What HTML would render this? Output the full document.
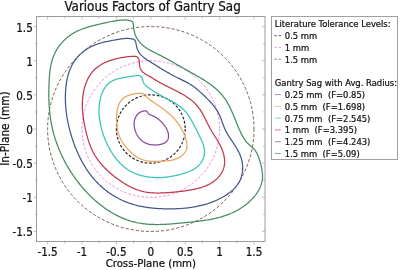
<!DOCTYPE html>
<html><head><meta charset="utf-8"><style>
html,body{margin:0;padding:0;background:#fff;}
svg{display:block;}
</style></head><body>
<svg width="400" height="270" viewBox="0 0 400 270">
<rect width="400" height="270" fill="#fff"/>
<clipPath id="c"><rect x="36.5" y="16.5" width="228.5" height="225.0"/></clipPath>
<g clip-path="url(#c)">
<ellipse cx="150.8" cy="129.0" rx="103.20" ry="102.45" fill="none" stroke="#7a5f52" stroke-width="1.0" stroke-dasharray="3.1 2.0"/>
<ellipse cx="150.8" cy="129.0" rx="68.80" ry="68.30" fill="none" stroke="#e892dc" stroke-width="1.0" stroke-dasharray="2.7 1.7"/>
<ellipse cx="150.8" cy="129.0" rx="34.40" ry="34.15" fill="none" stroke="#2a2a2a" stroke-width="1.2" stroke-dasharray="2.7 1.7"/>
<path d="M52.49,128.98 52.20,127.70 51.93,126.42 51.66,125.14 51.41,123.86 51.18,122.57 50.95,121.28 50.74,119.99 50.54,118.70 50.35,117.41 50.18,116.11 50.01,114.81 49.86,113.51 49.72,112.21 49.59,110.91 49.47,109.60 49.36,108.30 49.26,106.99 49.17,105.68 49.09,104.37 49.02,103.05 48.96,101.74 48.91,100.43 48.87,99.11 48.84,97.79 48.82,96.47 48.80,95.15 48.80,93.83 48.80,92.51 48.81,91.18 48.83,89.86 48.85,88.54 48.89,87.21 48.93,85.88 48.97,84.56 49.03,83.23 49.09,81.90 49.16,80.57 49.23,79.25 49.32,77.92 49.41,76.59 49.52,75.27 49.64,73.95 49.78,72.63 49.93,71.32 50.11,70.01 50.30,68.71 50.51,67.41 50.74,66.12 51.00,64.84 51.28,63.56 51.59,62.30 51.92,61.04 52.29,59.79 52.69,58.56 53.11,57.33 53.58,56.12 54.07,54.92 54.60,53.73 55.17,52.56 55.78,51.40 56.42,50.26 57.09,49.13 57.79,48.03 58.53,46.94 59.30,45.87 60.09,44.82 60.92,43.79 61.78,42.79 62.66,41.81 63.57,40.85 64.50,39.92 65.46,39.02 66.45,38.14 67.45,37.30 68.49,36.48 69.54,35.69 70.61,34.93 71.70,34.21 72.81,33.52 73.94,32.86 75.09,32.23 76.25,31.63 77.43,31.05 78.63,30.51 79.83,29.99 81.05,29.49 82.28,29.02 83.52,28.57 84.77,28.14 86.02,27.72 87.29,27.32 88.56,26.94 89.83,26.58 91.11,26.22 92.40,25.88 93.68,25.55 94.97,25.23 96.26,24.91 97.54,24.60 98.83,24.30 100.11,24.00 101.39,23.70 102.66,23.41 103.93,23.11 105.20,22.83 106.47,22.54 107.74,22.27 109.01,22.00 110.28,21.74 111.55,21.49 112.83,21.26 114.12,21.04 115.40,20.84 116.70,20.65 118.01,20.48 119.32,20.33 120.64,20.20 121.98,20.09 123.32,20.01 124.68,19.97 126.02,19.99 127.36,20.08 128.68,20.27 129.98,20.56 131.25,20.98 132.35,21.61 132.99,22.63 133.27,23.94 133.43,25.30 133.57,26.64 133.71,27.96 133.86,29.27 134.06,30.56 134.31,31.83 134.65,33.09 135.07,34.32 135.55,35.53 136.11,36.72 136.73,37.87 137.41,39.00 138.15,40.10 138.94,41.16 139.78,42.19 140.68,43.18 141.61,44.13 142.58,45.03 143.59,45.89 144.63,46.71 145.71,47.49 146.80,48.22 147.92,48.93 149.06,49.61 150.22,50.26 151.38,50.89 152.56,51.51 153.74,52.11 154.93,52.71 156.12,53.30 157.30,53.89 158.48,54.48 159.65,55.08 160.82,55.68 161.98,56.29 163.13,56.90 164.28,57.51 165.43,58.13 166.57,58.75 167.71,59.37 168.84,60.00 169.98,60.63 171.11,61.26 172.23,61.90 173.36,62.53 174.49,63.17 175.62,63.81 176.75,64.45 177.87,65.10 179.00,65.74 180.14,66.39 181.27,67.03 182.41,67.68 183.55,68.33 184.69,68.98 185.84,69.62 186.99,70.27 188.15,70.92 189.31,71.57 190.47,72.21 191.64,72.87 192.81,73.52 193.98,74.17 195.14,74.83 196.31,75.50 197.47,76.17 198.63,76.84 199.79,77.52 200.94,78.21 202.08,78.90 203.22,79.61 204.35,80.32 205.47,81.04 206.58,81.77 207.69,82.51 208.78,83.26 209.85,84.03 210.92,84.81 211.97,85.59 213.00,86.40 214.02,87.22 215.02,88.05 216.01,88.90 216.98,89.76 217.92,90.65 218.85,91.54 219.75,92.46 220.63,93.40 221.49,94.35 222.33,95.33 223.14,96.33 223.92,97.35 224.68,98.39 225.41,99.45 226.12,100.53 226.81,101.63 227.47,102.74 228.11,103.88 228.73,105.03 229.34,106.19 229.93,107.37 230.50,108.55 231.06,109.75 231.61,110.96 232.15,112.18 232.68,113.40 233.20,114.63 233.71,115.86 234.22,117.10 234.72,118.34 235.22,119.58 235.72,120.82 236.22,122.06 236.72,123.30 237.23,124.53 237.74,125.76 238.25,126.99 238.77,128.20 239.30,129.41 239.84,130.61 240.39,131.80 240.95,132.97 241.53,134.13 242.12,135.28 242.73,136.42 243.36,137.53 244.02,138.63 244.72,139.70 245.47,140.74 246.28,141.74 247.16,142.71 248.11,143.65 249.10,144.56 250.12,145.46 251.15,146.35 252.16,147.26 253.13,148.19 254.05,149.15 254.88,150.15 255.64,151.20 256.33,152.29 256.96,153.41 257.53,154.57 258.04,155.76 258.52,156.98 258.96,158.22 259.37,159.48 259.76,160.75 260.13,162.04 260.49,163.35 260.84,164.65 261.16,165.97 261.46,167.29 261.74,168.62 261.98,169.95 262.18,171.27 262.34,172.60 262.45,173.92 262.52,175.24 262.53,176.55 262.49,177.85 262.38,179.13 262.20,180.41 261.97,181.68 261.67,182.93 261.31,184.16 260.90,185.39 260.44,186.59 259.92,187.79 259.36,188.96 258.74,190.12 258.09,191.26 257.38,192.38 256.64,193.48 255.86,194.57 255.05,195.63 254.20,196.67 253.32,197.69 252.41,198.69 251.47,199.67 250.50,200.62 249.52,201.55 248.51,202.46 247.49,203.34 246.44,204.19 245.39,205.02 244.32,205.82 243.24,206.60 242.15,207.34 241.05,208.06 239.95,208.76 238.83,209.43 237.70,210.08 236.56,210.70 235.41,211.30 234.26,211.88 233.09,212.44 231.92,212.97 230.74,213.48 229.55,213.98 228.36,214.45 227.15,214.91 225.94,215.34 224.72,215.76 223.50,216.16 222.26,216.54 221.02,216.91 219.78,217.26 218.53,217.59 217.27,217.91 216.01,218.22 214.74,218.51 213.47,218.79 212.19,219.05 210.91,219.31 209.62,219.55 208.33,219.78 207.03,220.00 205.73,220.22 204.43,220.42 203.12,220.61 201.81,220.80 200.50,220.98 199.18,221.15 197.87,221.31 196.55,221.47 195.22,221.62 193.90,221.77 192.57,221.91 191.24,222.05 189.92,222.19 188.59,222.33 187.25,222.46 185.92,222.59 184.59,222.72 183.26,222.85 181.93,222.98 180.59,223.10 179.26,223.23 177.93,223.35 176.60,223.47 175.27,223.59 173.94,223.70 172.61,223.81 171.28,223.91 169.96,224.01 168.63,224.10 167.30,224.18 165.98,224.26 164.66,224.32 163.34,224.38 162.02,224.43 160.70,224.47 159.39,224.50 158.07,224.51 156.76,224.52 155.45,224.51 154.15,224.49 152.84,224.45 151.54,224.41 150.24,224.34 148.94,224.26 147.65,224.17 146.36,224.06 145.07,223.93 143.79,223.79 142.51,223.62 141.23,223.44 139.96,223.24 138.69,223.01 137.42,222.77 136.16,222.51 134.90,222.22 133.65,221.91 132.40,221.58 131.15,221.23 129.91,220.85 128.68,220.45 127.45,220.03 126.22,219.59 125.00,219.12 123.78,218.64 122.58,218.13 121.37,217.61 120.18,217.06 118.99,216.50 117.80,215.92 116.63,215.32 115.46,214.70 114.29,214.07 113.14,213.42 111.99,212.75 110.85,212.06 109.72,211.36 108.60,210.65 107.49,209.92 106.38,209.18 105.28,208.42 104.20,207.65 103.12,206.86 102.05,206.07 100.99,205.26 99.94,204.44 98.90,203.61 97.88,202.76 96.86,201.91 95.85,201.05 94.86,200.17 93.87,199.29 92.90,198.40 91.94,197.50 90.99,196.59 90.05,195.68 89.12,194.75 88.20,193.82 87.29,192.87 86.39,191.92 85.51,190.96 84.63,190.00 83.76,189.02 82.90,188.03 82.05,187.04 81.22,186.04 80.39,185.03 79.56,184.01 78.75,182.99 77.95,181.95 77.15,180.91 76.37,179.86 75.59,178.80 74.82,177.74 74.06,176.66 73.31,175.58 72.57,174.50 71.84,173.40 71.12,172.30 70.41,171.19 69.71,170.07 69.02,168.95 68.34,167.82 67.66,166.69 67.00,165.55 66.35,164.40 65.71,163.24 65.08,162.08 64.47,160.92 63.86,159.75 63.26,158.57 62.68,157.39 62.10,156.20 61.54,155.01 60.99,153.81 60.44,152.61 59.92,151.40 59.40,150.19 58.89,148.97 58.40,147.75 57.92,146.52 57.45,145.29 56.99,144.06 56.55,142.82 56.11,141.58 55.69,140.33 55.28,139.08 54.89,137.83 54.51,136.58 54.14,135.32 53.78,134.05 53.44,132.79 53.11,131.52 52.79,130.25Z" fill="none" stroke="#478c62" stroke-width="1.25" stroke-linejoin="round"/>
<path d="M69.47,128.95 69.21,127.89 68.95,126.83 68.70,125.77 68.46,124.70 68.23,123.64 68.01,122.58 67.79,121.51 67.59,120.45 67.39,119.38 67.20,118.31 67.02,117.24 66.84,116.17 66.68,115.10 66.53,114.03 66.38,112.96 66.25,111.89 66.12,110.81 66.00,109.74 65.90,108.66 65.80,107.58 65.71,106.51 65.63,105.43 65.56,104.35 65.51,103.26 65.46,102.18 65.42,101.10 65.40,100.01 65.38,98.93 65.37,97.84 65.38,96.75 65.40,95.67 65.42,94.58 65.46,93.49 65.51,92.39 65.57,91.30 65.65,90.21 65.73,89.11 65.83,88.02 65.94,86.92 66.06,85.83 66.20,84.74 66.35,83.64 66.51,82.55 66.69,81.47 66.89,80.39 67.10,79.31 67.33,78.23 67.58,77.16 67.84,76.10 68.12,75.05 68.42,74.00 68.74,72.96 69.08,71.92 69.44,70.90 69.82,69.88 70.22,68.88 70.65,67.88 71.09,66.90 71.56,65.93 72.06,64.97 72.57,64.02 73.11,63.09 73.68,62.17 74.27,61.27 74.89,60.38 75.53,59.51 76.20,58.65 76.89,57.81 77.61,56.99 78.35,56.18 79.11,55.39 79.89,54.62 80.69,53.87 81.51,53.14 82.35,52.43 83.21,51.74 84.08,51.06 84.97,50.41 85.88,49.78 86.80,49.17 87.73,48.59 88.67,48.02 89.63,47.48 90.59,46.96 91.57,46.47 92.56,46.00 93.55,45.55 94.55,45.13 95.56,44.73 96.57,44.35 97.59,44.00 98.62,43.66 99.65,43.34 100.69,43.04 101.73,42.75 102.78,42.47 103.83,42.21 104.89,41.97 105.95,41.73 107.01,41.50 108.07,41.28 109.14,41.06 110.21,40.85 111.28,40.65 112.35,40.45 113.42,40.25 114.50,40.05 115.57,39.85 116.65,39.65 117.72,39.45 118.80,39.26 119.87,39.09 120.95,38.92 122.03,38.77 123.12,38.65 124.20,38.55 125.29,38.47 126.39,38.43 127.48,38.42 128.59,38.45 129.69,38.52 130.81,38.63 131.92,38.80 132.98,39.07 133.93,39.52 134.70,40.18 135.29,41.03 135.70,42.03 135.96,43.12 136.16,44.25 136.36,45.38 136.60,46.48 136.87,47.55 137.18,48.60 137.54,49.61 137.96,50.58 138.44,51.52 138.99,52.41 139.60,53.27 140.26,54.09 140.97,54.87 141.73,55.63 142.53,56.35 143.36,57.06 144.23,57.74 145.12,58.40 146.04,59.04 146.96,59.67 147.91,60.29 148.85,60.90 149.80,61.50 150.75,62.10 151.69,62.70 152.63,63.29 153.56,63.88 154.49,64.47 155.42,65.06 156.34,65.64 157.26,66.22 158.19,66.79 159.11,67.37 160.03,67.94 160.95,68.50 161.87,69.06 162.79,69.62 163.71,70.17 164.63,70.72 165.55,71.27 166.48,71.81 167.41,72.35 168.34,72.88 169.28,73.41 170.21,73.94 171.16,74.45 172.11,74.97 173.06,75.48 174.02,75.98 174.98,76.48 175.95,76.98 176.93,77.47 177.91,77.95 178.90,78.43 179.89,78.92 180.88,79.40 181.87,79.88 182.86,80.37 183.85,80.86 184.83,81.36 185.81,81.87 186.79,82.38 187.75,82.90 188.71,83.44 189.65,83.99 190.59,84.55 191.51,85.13 192.41,85.72 193.31,86.33 194.18,86.97 195.04,87.62 195.88,88.29 196.71,88.98 197.53,89.69 198.34,90.40 199.14,91.13 199.95,91.85 200.75,92.59 201.56,93.32 202.36,94.06 203.17,94.81 203.97,95.56 204.76,96.31 205.56,97.07 206.34,97.84 207.13,98.61 207.90,99.39 208.67,100.17 209.42,100.96 210.17,101.77 210.90,102.58 211.63,103.39 212.33,104.22 213.03,105.06 213.71,105.91 214.37,106.77 215.02,107.64 215.65,108.52 216.26,109.41 216.85,110.32 217.41,111.24 217.96,112.17 218.48,113.11 218.98,114.07 219.46,115.05 219.91,116.03 220.33,117.04 220.74,118.05 221.12,119.07 221.50,120.10 221.87,121.13 222.24,122.17 222.60,123.21 222.97,124.24 223.35,125.27 223.74,126.29 224.14,127.30 224.56,128.30 225.01,129.29 225.47,130.26 225.96,131.22 226.47,132.17 226.99,133.12 227.53,134.05 228.09,134.98 228.65,135.90 229.23,136.81 229.82,137.73 230.41,138.64 231.01,139.55 231.61,140.45 232.22,141.36 232.83,142.27 233.43,143.18 234.03,144.10 234.63,145.02 235.22,145.94 235.80,146.86 236.37,147.79 236.92,148.73 237.46,149.68 237.98,150.63 238.49,151.59 238.97,152.56 239.44,153.54 239.87,154.53 240.29,155.53 240.67,156.55 241.02,157.58 241.34,158.62 241.63,159.67 241.88,160.74 242.10,161.83 242.28,162.92 242.42,164.02 242.53,165.13 242.60,166.24 242.64,167.36 242.64,168.48 242.60,169.59 242.52,170.70 242.40,171.81 242.25,172.91 242.06,173.99 241.83,175.07 241.56,176.13 241.25,177.18 240.90,178.21 240.52,179.21 240.09,180.20 239.63,181.16 239.12,182.10 238.58,183.02 238.01,183.92 237.40,184.80 236.77,185.65 236.10,186.48 235.40,187.30 234.67,188.09 233.92,188.87 233.15,189.62 232.35,190.35 231.53,191.07 230.69,191.77 229.83,192.45 228.95,193.11 228.06,193.75 227.15,194.38 226.23,194.99 225.30,195.58 224.36,196.16 223.41,196.72 222.45,197.27 221.49,197.80 220.52,198.31 219.55,198.81 218.57,199.30 217.58,199.77 216.59,200.22 215.59,200.67 214.59,201.09 213.59,201.51 212.58,201.91 211.56,202.30 210.54,202.67 209.52,203.03 208.49,203.38 207.46,203.72 206.42,204.04 205.38,204.35 204.34,204.65 203.29,204.93 202.24,205.21 201.19,205.47 200.13,205.72 199.07,205.96 198.01,206.19 196.94,206.41 195.87,206.62 194.80,206.81 193.73,207.00 192.65,207.18 191.57,207.34 190.49,207.50 189.41,207.65 188.33,207.79 187.24,207.91 186.15,208.03 185.07,208.14 183.98,208.25 182.88,208.34 181.79,208.42 180.70,208.50 179.60,208.57 178.51,208.63 177.41,208.68 176.32,208.73 175.22,208.77 174.12,208.80 173.03,208.82 171.93,208.84 170.83,208.85 169.74,208.86 168.64,208.86 167.55,208.85 166.45,208.84 165.36,208.82 164.26,208.79 163.17,208.76 162.08,208.72 160.99,208.68 159.90,208.63 158.81,208.57 157.73,208.51 156.64,208.43 155.56,208.35 154.47,208.26 153.39,208.17 152.32,208.06 151.24,207.95 150.16,207.82 149.09,207.69 148.02,207.55 146.95,207.39 145.88,207.23 144.81,207.06 143.75,206.88 142.69,206.69 141.63,206.48 140.58,206.27 139.52,206.04 138.47,205.80 137.42,205.56 136.38,205.29 135.34,205.02 134.30,204.74 133.26,204.44 132.23,204.13 131.20,203.80 130.17,203.47 129.15,203.11 128.13,202.75 127.11,202.37 126.10,201.98 125.09,201.57 124.08,201.15 123.08,200.71 122.08,200.26 121.09,199.79 120.10,199.31 119.11,198.82 118.14,198.31 117.16,197.79 116.20,197.26 115.24,196.71 114.28,196.15 113.34,195.57 112.40,194.99 111.46,194.39 110.54,193.78 109.63,193.16 108.72,192.52 107.82,191.88 106.93,191.22 106.05,190.55 105.18,189.87 104.32,189.18 103.48,188.48 102.64,187.77 101.81,187.05 101.00,186.32 100.19,185.58 99.40,184.83 98.62,184.08 97.85,183.31 97.10,182.53 96.35,181.75 95.62,180.95 94.90,180.15 94.18,179.34 93.48,178.52 92.79,177.69 92.11,176.86 91.44,176.01 90.78,175.16 90.13,174.30 89.49,173.44 88.86,172.56 88.24,171.68 87.63,170.79 87.03,169.90 86.44,169.00 85.86,168.09 85.28,167.17 84.71,166.25 84.16,165.32 83.61,164.39 83.06,163.45 82.53,162.50 82.01,161.55 81.49,160.59 80.98,159.63 80.48,158.66 79.99,157.69 79.51,156.71 79.03,155.73 78.56,154.74 78.11,153.75 77.65,152.75 77.21,151.75 76.78,150.75 76.35,149.74 75.93,148.72 75.52,147.71 75.12,146.69 74.72,145.66 74.34,144.64 73.96,143.61 73.59,142.58 73.22,141.54 72.87,140.50 72.52,139.46 72.18,138.42 71.85,137.37 71.52,136.32 71.21,135.28 70.90,134.22 70.60,133.17 70.30,132.12 70.02,131.06 69.74,130.00Z" fill="none" stroke="#46578e" stroke-width="1.25" stroke-linejoin="round"/>
<path d="M85.39,129.03 85.20,128.17 85.02,127.30 84.84,126.44 84.66,125.58 84.49,124.71 84.33,123.85 84.16,122.98 84.01,122.12 83.86,121.25 83.72,120.39 83.58,119.52 83.44,118.65 83.32,117.79 83.20,116.92 83.09,116.05 82.98,115.18 82.88,114.32 82.79,113.45 82.71,112.58 82.64,111.71 82.57,110.84 82.51,109.97 82.46,109.10 82.42,108.23 82.39,107.36 82.36,106.49 82.35,105.62 82.35,104.75 82.35,103.88 82.37,103.01 82.39,102.14 82.43,101.27 82.48,100.40 82.54,99.53 82.61,98.66 82.69,97.79 82.78,96.92 82.88,96.05 83.00,95.18 83.13,94.31 83.27,93.44 83.42,92.57 83.58,91.71 83.76,90.84 83.96,89.97 84.16,89.11 84.38,88.25 84.61,87.40 84.86,86.55 85.12,85.70 85.39,84.86 85.68,84.03 85.98,83.20 86.30,82.38 86.63,81.56 86.98,80.76 87.34,79.96 87.72,79.17 88.11,78.39 88.52,77.63 88.94,76.87 89.38,76.12 89.84,75.39 90.31,74.67 90.80,73.96 91.31,73.27 91.83,72.58 92.37,71.92 92.93,71.27 93.51,70.63 94.10,70.01 94.71,69.41 95.34,68.82 95.98,68.26 96.64,67.70 97.32,67.17 98.01,66.65 98.72,66.15 99.44,65.66 100.17,65.19 100.92,64.73 101.68,64.29 102.45,63.86 103.23,63.45 104.02,63.05 104.83,62.67 105.64,62.30 106.46,61.94 107.28,61.60 108.12,61.27 108.96,60.95 109.81,60.65 110.66,60.36 111.51,60.08 112.37,59.81 113.24,59.55 114.11,59.31 114.98,59.07 115.85,58.85 116.72,58.64 117.59,58.44 118.46,58.24 119.34,58.06 120.21,57.89 121.07,57.73 121.94,57.57 122.80,57.43 123.66,57.29 124.51,57.17 125.36,57.05 126.20,56.94 127.04,56.83 127.87,56.74 128.70,56.65 129.53,56.57 130.36,56.50 131.22,56.44 132.09,56.39 132.98,56.35 133.90,56.32 134.84,56.33 135.75,56.44 136.59,56.69 137.33,57.15 137.94,57.77 138.42,58.51 138.78,59.29 139.02,60.11 139.18,60.96 139.28,61.84 139.34,62.72 139.40,63.62 139.47,64.52 139.58,65.41 139.74,66.29 139.96,67.16 140.24,68.00 140.56,68.81 140.94,69.59 141.38,70.34 141.87,71.04 142.41,71.69 143.01,72.30 143.65,72.85 144.33,73.37 145.05,73.86 145.79,74.32 146.56,74.76 147.34,75.19 148.13,75.62 148.92,76.04 149.70,76.47 150.48,76.91 151.25,77.36 152.02,77.82 152.77,78.28 153.53,78.75 154.28,79.22 155.02,79.69 155.77,80.15 156.52,80.61 157.26,81.06 158.01,81.51 158.77,81.95 159.52,82.38 160.28,82.80 161.03,83.21 161.79,83.63 162.55,84.03 163.32,84.43 164.08,84.83 164.85,85.22 165.61,85.61 166.38,86.00 167.15,86.38 167.92,86.77 168.70,87.15 169.47,87.53 170.24,87.91 171.02,88.29 171.80,88.67 172.57,89.06 173.35,89.44 174.13,89.83 174.91,90.22 175.69,90.61 176.47,91.01 177.26,91.41 178.04,91.82 178.82,92.23 179.60,92.65 180.38,93.08 181.16,93.50 181.94,93.94 182.71,94.38 183.48,94.83 184.25,95.29 185.01,95.76 185.76,96.23 186.51,96.71 187.25,97.20 187.98,97.70 188.71,98.20 189.43,98.72 190.14,99.24 190.84,99.78 191.52,100.33 192.20,100.88 192.87,101.45 193.52,102.03 194.16,102.61 194.79,103.21 195.40,103.83 195.99,104.45 196.58,105.09 197.14,105.74 197.69,106.40 198.22,107.07 198.74,107.76 199.25,108.46 199.74,109.16 200.22,109.88 200.69,110.60 201.15,111.34 201.60,112.08 202.04,112.83 202.47,113.59 202.89,114.35 203.31,115.12 203.72,115.89 204.13,116.67 204.53,117.45 204.93,118.23 205.33,119.02 205.72,119.81 206.11,120.60 206.50,121.39 206.90,122.18 207.29,122.98 207.69,123.77 208.09,124.56 208.49,125.35 208.89,126.13 209.31,126.91 209.72,127.69 210.15,128.47 210.58,129.23 211.02,130.00 211.46,130.76 211.91,131.52 212.37,132.27 212.83,133.02 213.29,133.77 213.75,134.51 214.22,135.26 214.68,136.00 215.14,136.74 215.61,137.49 216.07,138.23 216.53,138.97 216.98,139.72 217.43,140.46 217.87,141.21 218.31,141.96 218.74,142.72 219.16,143.48 219.58,144.24 219.98,145.00 220.37,145.77 220.75,146.55 221.12,147.33 221.48,148.12 221.82,148.91 222.15,149.71 222.46,150.52 222.75,151.34 223.03,152.16 223.29,153.00 223.53,153.84 223.75,154.69 223.95,155.55 224.13,156.42 224.28,157.30 224.41,158.18 224.51,159.06 224.58,159.95 224.63,160.83 224.65,161.72 224.63,162.60 224.58,163.48 224.50,164.36 224.38,165.23 224.23,166.09 224.04,166.95 223.81,167.79 223.54,168.63 223.24,169.45 222.91,170.26 222.54,171.06 222.15,171.85 221.72,172.62 221.27,173.38 220.79,174.13 220.28,174.86 219.75,175.57 219.20,176.26 218.63,176.94 218.04,177.60 217.43,178.23 216.80,178.85 216.16,179.45 215.50,180.02 214.83,180.58 214.15,181.11 213.45,181.63 212.75,182.12 212.03,182.60 211.29,183.06 210.55,183.50 209.80,183.92 209.04,184.33 208.26,184.72 207.48,185.09 206.69,185.45 205.89,185.79 205.09,186.12 204.27,186.43 203.45,186.73 202.62,187.02 201.79,187.29 200.95,187.56 200.10,187.81 199.25,188.05 198.40,188.28 197.54,188.50 196.68,188.71 195.81,188.91 194.95,189.10 194.08,189.28 193.21,189.46 192.33,189.63 191.46,189.79 190.58,189.95 189.71,190.10 188.84,190.24 187.96,190.39 187.09,190.52 186.22,190.65 185.35,190.78 184.48,190.91 183.62,191.03 182.75,191.15 181.88,191.26 181.02,191.37 180.16,191.48 179.29,191.58 178.43,191.68 177.57,191.78 176.71,191.87 175.84,191.96 174.98,192.04 174.12,192.13 173.25,192.20 172.39,192.28 171.52,192.35 170.66,192.42 169.79,192.49 168.92,192.55 168.05,192.61 167.18,192.66 166.31,192.72 165.43,192.77 164.56,192.81 163.68,192.85 162.80,192.89 161.92,192.93 161.03,192.96 160.15,192.98 159.27,193.00 158.39,193.01 157.50,193.02 156.62,193.01 155.74,193.00 154.85,192.98 153.97,192.95 153.09,192.91 152.22,192.86 151.34,192.80 150.47,192.73 149.60,192.64 148.73,192.54 147.86,192.43 147.00,192.31 146.14,192.17 145.29,192.01 144.44,191.85 143.59,191.66 142.75,191.46 141.91,191.25 141.07,191.02 140.24,190.78 139.41,190.53 138.59,190.26 137.77,189.98 136.96,189.68 136.14,189.38 135.34,189.06 134.53,188.73 133.73,188.39 132.94,188.04 132.14,187.68 131.35,187.30 130.57,186.92 129.79,186.52 129.01,186.12 128.24,185.70 127.47,185.28 126.70,184.85 125.94,184.41 125.18,183.96 124.43,183.50 123.68,183.04 122.93,182.56 122.19,182.08 121.45,181.60 120.71,181.10 119.98,180.60 119.25,180.09 118.53,179.58 117.81,179.06 117.09,178.54 116.38,178.01 115.67,177.48 114.97,176.94 114.27,176.39 113.57,175.84 112.88,175.29 112.19,174.73 111.51,174.16 110.83,173.59 110.16,173.01 109.50,172.43 108.84,171.84 108.19,171.25 107.54,170.65 106.90,170.04 106.27,169.43 105.64,168.82 105.02,168.20 104.41,167.57 103.80,166.93 103.21,166.30 102.62,165.65 102.04,165.00 101.46,164.34 100.90,163.68 100.34,163.01 99.79,162.33 99.25,161.65 98.73,160.97 98.21,160.27 97.70,159.57 97.19,158.87 96.70,158.15 96.22,157.43 95.75,156.71 95.29,155.98 94.84,155.24 94.41,154.49 93.98,153.74 93.56,152.99 93.16,152.22 92.77,151.45 92.38,150.67 92.01,149.89 91.65,149.10 91.30,148.31 90.96,147.51 90.62,146.71 90.30,145.90 89.99,145.09 89.68,144.27 89.39,143.45 89.10,142.62 88.82,141.79 88.54,140.96 88.28,140.12 88.02,139.28 87.77,138.44 87.53,137.59 87.29,136.74 87.06,135.89 86.83,135.04 86.61,134.19 86.39,133.33 86.18,132.47 85.98,131.61 85.78,130.75 85.58,129.89Z" fill="none" stroke="#bf3a4c" stroke-width="1.25" stroke-linejoin="round"/>
<path d="M101.59,128.97 101.42,128.34 101.26,127.71 101.11,127.08 100.96,126.45 100.82,125.82 100.68,125.18 100.54,124.54 100.41,123.90 100.28,123.26 100.17,122.62 100.05,121.98 99.94,121.34 99.84,120.69 99.74,120.05 99.65,119.40 99.56,118.75 99.48,118.10 99.41,117.46 99.34,116.81 99.28,116.16 99.22,115.51 99.18,114.86 99.13,114.21 99.10,113.56 99.07,112.91 99.05,112.25 99.03,111.60 99.03,110.95 99.02,110.30 99.03,109.65 99.05,109.00 99.07,108.35 99.10,107.70 99.14,107.05 99.18,106.40 99.23,105.76 99.29,105.11 99.36,104.46 99.44,103.82 99.53,103.17 99.62,102.53 99.73,101.88 99.84,101.24 99.96,100.60 100.09,99.96 100.23,99.33 100.37,98.69 100.53,98.05 100.70,97.42 100.87,96.79 101.06,96.16 101.25,95.54 101.46,94.91 101.67,94.29 101.90,93.68 102.14,93.07 102.38,92.47 102.64,91.87 102.92,91.28 103.20,90.70 103.49,90.12 103.80,89.55 104.12,89.00 104.45,88.44 104.79,87.90 105.15,87.37 105.52,86.85 105.90,86.34 106.30,85.85 106.71,85.36 107.13,84.89 107.57,84.43 108.03,83.98 108.49,83.55 108.98,83.13 109.48,82.73 109.99,82.34 110.52,81.97 111.06,81.62 111.62,81.28 112.20,80.96 112.79,80.66 113.40,80.38 114.02,80.11 114.66,79.86 115.30,79.63 115.96,79.41 116.62,79.21 117.28,79.01 117.94,78.83 118.61,78.66 119.27,78.50 119.92,78.34 120.57,78.20 121.22,78.06 121.85,77.93 122.48,77.80 123.11,77.68 123.73,77.56 124.35,77.45 124.97,77.34 125.58,77.24 126.20,77.14 126.81,77.04 127.43,76.94 128.04,76.84 128.66,76.75 129.28,76.65 129.91,76.56 130.54,76.46 131.17,76.37 131.81,76.27 132.46,76.17 133.12,76.07 133.78,75.96 134.45,75.85 135.14,75.74 135.82,75.63 136.51,75.53 137.20,75.47 137.87,75.44 138.53,75.47 139.16,75.57 139.76,75.75 140.33,76.01 140.84,76.36 141.29,76.79 141.66,77.29 141.97,77.86 142.23,78.47 142.43,79.10 142.61,79.75 142.78,80.40 142.95,81.04 143.15,81.66 143.39,82.26 143.67,82.83 144.00,83.37 144.37,83.89 144.77,84.39 145.20,84.86 145.66,85.33 146.13,85.77 146.62,86.21 147.12,86.63 147.63,87.04 148.15,87.44 148.68,87.84 149.21,88.23 149.74,88.61 150.28,88.99 150.81,89.36 151.35,89.73 151.89,90.09 152.43,90.45 152.97,90.80 153.51,91.15 154.06,91.50 154.60,91.84 155.15,92.18 155.70,92.52 156.25,92.85 156.80,93.18 157.35,93.50 157.91,93.83 158.47,94.15 159.02,94.47 159.58,94.78 160.14,95.09 160.71,95.41 161.27,95.72 161.84,96.02 162.41,96.33 162.97,96.64 163.55,96.94 164.12,97.24 164.69,97.55 165.27,97.85 165.85,98.15 166.42,98.45 167.00,98.75 167.58,99.06 168.16,99.36 168.74,99.66 169.32,99.97 169.90,100.28 170.48,100.59 171.05,100.90 171.63,101.21 172.20,101.53 172.77,101.85 173.34,102.17 173.91,102.50 174.47,102.83 175.03,103.16 175.59,103.50 176.14,103.85 176.69,104.20 177.23,104.55 177.77,104.91 178.31,105.28 178.84,105.65 179.36,106.03 179.88,106.41 180.39,106.81 180.90,107.21 181.40,107.62 181.89,108.03 182.38,108.45 182.85,108.89 183.32,109.33 183.78,109.78 184.24,110.24 184.68,110.71 185.12,111.19 185.54,111.67 185.96,112.17 186.37,112.68 186.77,113.19 187.17,113.71 187.55,114.24 187.93,114.78 188.31,115.32 188.67,115.86 189.03,116.41 189.39,116.96 189.74,117.52 190.08,118.07 190.42,118.63 190.75,119.20 191.08,119.76 191.40,120.32 191.73,120.88 192.04,121.44 192.36,122.01 192.67,122.57 192.97,123.13 193.28,123.69 193.58,124.26 193.88,124.82 194.18,125.39 194.47,125.95 194.77,126.52 195.06,127.09 195.35,127.65 195.64,128.22 195.92,128.80 196.21,129.37 196.50,129.94 196.78,130.52 197.07,131.09 197.36,131.67 197.64,132.25 197.93,132.84 198.21,133.42 198.50,134.01 198.79,134.60 199.08,135.19 199.37,135.78 199.66,136.38 199.96,136.98 200.25,137.58 200.54,138.18 200.82,138.78 201.11,139.39 201.38,140.00 201.66,140.61 201.92,141.22 202.18,141.84 202.43,142.45 202.67,143.07 202.90,143.69 203.12,144.31 203.33,144.93 203.53,145.55 203.71,146.18 203.87,146.80 204.02,147.43 204.15,148.06 204.27,148.69 204.37,149.31 204.44,149.95 204.50,150.58 204.53,151.21 204.55,151.84 204.54,152.47 204.50,153.11 204.44,153.74 204.36,154.37 204.25,155.00 204.12,155.63 203.96,156.26 203.79,156.88 203.59,157.50 203.37,158.12 203.13,158.73 202.87,159.33 202.59,159.92 202.30,160.51 201.98,161.09 201.65,161.65 201.30,162.21 200.93,162.76 200.55,163.29 200.15,163.82 199.74,164.32 199.31,164.82 198.87,165.30 198.42,165.76 197.95,166.21 197.47,166.64 196.98,167.06 196.48,167.46 195.97,167.85 195.44,168.22 194.91,168.58 194.37,168.92 193.82,169.26 193.26,169.58 192.69,169.89 192.12,170.18 191.54,170.47 190.95,170.75 190.36,171.01 189.76,171.27 189.15,171.52 188.55,171.76 187.93,171.99 187.31,172.22 186.69,172.44 186.07,172.65 185.45,172.86 184.82,173.06 184.19,173.26 183.56,173.45 182.93,173.64 182.30,173.83 181.67,174.01 181.04,174.19 180.40,174.36 179.77,174.53 179.14,174.70 178.50,174.86 177.87,175.02 177.23,175.17 176.60,175.32 175.96,175.47 175.33,175.61 174.69,175.74 174.05,175.88 173.41,176.00 172.78,176.13 172.14,176.24 171.50,176.36 170.86,176.47 170.22,176.57 169.58,176.67 168.94,176.77 168.30,176.86 167.66,176.94 167.02,177.02 166.37,177.10 165.73,177.17 165.09,177.23 164.45,177.29 163.80,177.34 163.16,177.39 162.52,177.44 161.87,177.47 161.23,177.51 160.58,177.53 159.94,177.56 159.29,177.57 158.65,177.58 158.00,177.59 157.35,177.59 156.71,177.58 156.06,177.57 155.42,177.55 154.77,177.52 154.12,177.49 153.47,177.46 152.83,177.41 152.18,177.37 151.53,177.31 150.88,177.25 150.24,177.18 149.59,177.11 148.94,177.03 148.30,176.94 147.65,176.85 147.00,176.75 146.36,176.64 145.72,176.53 145.08,176.41 144.44,176.28 143.80,176.14 143.16,176.00 142.53,175.85 141.90,175.69 141.27,175.53 140.64,175.36 140.01,175.18 139.39,174.99 138.77,174.80 138.16,174.60 137.54,174.39 136.93,174.17 136.33,173.95 135.73,173.71 135.13,173.47 134.53,173.22 133.94,172.96 133.36,172.70 132.77,172.42 132.20,172.14 131.62,171.85 131.06,171.55 130.49,171.24 129.94,170.92 129.38,170.59 128.84,170.26 128.30,169.92 127.76,169.56 127.23,169.21 126.70,168.84 126.18,168.46 125.67,168.08 125.16,167.69 124.65,167.29 124.15,166.89 123.65,166.48 123.16,166.06 122.68,165.63 122.20,165.20 121.72,164.76 121.26,164.32 120.79,163.87 120.33,163.41 119.88,162.95 119.43,162.48 118.98,162.00 118.54,161.52 118.11,161.04 117.68,160.55 117.26,160.05 116.84,159.55 116.42,159.04 116.01,158.53 115.61,158.02 115.21,157.50 114.82,156.98 114.43,156.45 114.04,155.92 113.67,155.38 113.29,154.85 112.92,154.30 112.56,153.76 112.20,153.21 111.84,152.66 111.50,152.10 111.15,151.54 110.81,150.98 110.48,150.42 110.15,149.85 109.82,149.29 109.50,148.72 109.19,148.14 108.88,147.57 108.57,147.00 108.27,146.42 107.97,145.84 107.68,145.26 107.40,144.68 107.12,144.10 106.84,143.51 106.57,142.92 106.30,142.34 106.04,141.75 105.78,141.15 105.53,140.56 105.28,139.97 105.04,139.37 104.80,138.77 104.56,138.17 104.33,137.57 104.11,136.97 103.89,136.36 103.67,135.76 103.46,135.15 103.25,134.54 103.05,133.93 102.85,133.32 102.66,132.70 102.47,132.08 102.28,131.46 102.10,130.84 101.93,130.22 101.75,129.60Z" fill="none" stroke="#38c4b8" stroke-width="1.25" stroke-linejoin="round"/>
<path d="M116.90,124.64 116.85,124.21 116.82,123.77 116.78,123.34 116.75,122.90 116.72,122.46 116.69,122.03 116.66,121.59 116.64,121.15 116.62,120.71 116.60,120.27 116.59,119.84 116.58,119.40 116.57,118.96 116.57,118.52 116.57,118.08 116.57,117.64 116.58,117.21 116.59,116.77 116.61,116.33 116.63,115.89 116.65,115.45 116.68,115.02 116.71,114.58 116.74,114.15 116.78,113.71 116.83,113.27 116.88,112.84 116.93,112.41 116.99,111.97 117.05,111.54 117.12,111.11 117.19,110.68 117.27,110.25 117.35,109.82 117.44,109.39 117.53,108.96 117.63,108.54 117.73,108.11 117.84,107.69 117.95,107.27 118.08,106.85 118.20,106.43 118.34,106.02 118.48,105.60 118.62,105.19 118.78,104.79 118.94,104.39 119.10,103.99 119.28,103.60 119.46,103.21 119.66,102.83 119.86,102.45 120.06,102.08 120.28,101.72 120.51,101.36 120.74,101.01 120.99,100.66 121.24,100.33 121.50,100.00 121.78,99.68 122.06,99.36 122.35,99.06 122.66,98.77 122.97,98.48 123.30,98.21 123.63,97.94 123.98,97.69 124.33,97.44 124.70,97.21 125.07,96.98 125.45,96.76 125.84,96.55 126.24,96.35 126.64,96.16 127.05,95.97 127.46,95.80 127.88,95.63 128.30,95.46 128.72,95.31 129.15,95.16 129.58,95.02 130.02,94.89 130.45,94.76 130.89,94.64 131.33,94.53 131.76,94.42 132.20,94.32 132.64,94.22 133.07,94.13 133.50,94.04 133.93,93.96 134.36,93.89 134.78,93.82 135.21,93.75 135.63,93.69 136.05,93.63 136.47,93.58 136.89,93.53 137.31,93.49 137.73,93.46 138.15,93.43 138.58,93.40 139.01,93.38 139.44,93.37 139.88,93.36 140.33,93.35 140.78,93.35 141.23,93.36 141.68,93.39 142.12,93.44 142.55,93.52 142.96,93.64 143.35,93.80 143.71,94.00 144.04,94.26 144.35,94.55 144.65,94.87 144.93,95.20 145.21,95.55 145.50,95.89 145.79,96.22 146.09,96.54 146.40,96.85 146.71,97.16 147.03,97.46 147.35,97.75 147.68,98.03 148.01,98.31 148.34,98.59 148.68,98.86 149.02,99.12 149.36,99.38 149.70,99.64 150.05,99.89 150.39,100.14 150.74,100.39 151.10,100.63 151.45,100.87 151.80,101.11 152.16,101.35 152.52,101.59 152.88,101.83 153.24,102.06 153.59,102.30 153.96,102.54 154.32,102.77 154.68,103.01 155.04,103.25 155.40,103.49 155.76,103.73 156.13,103.97 156.49,104.22 156.85,104.46 157.21,104.70 157.57,104.95 157.94,105.20 158.30,105.44 158.66,105.69 159.02,105.94 159.38,106.19 159.74,106.44 160.10,106.69 160.46,106.95 160.82,107.20 161.18,107.46 161.53,107.72 161.89,107.97 162.25,108.23 162.60,108.49 162.96,108.76 163.31,109.02 163.66,109.28 164.01,109.55 164.36,109.81 164.71,110.08 165.06,110.35 165.40,110.62 165.75,110.89 166.09,111.17 166.44,111.44 166.78,111.72 167.12,112.00 167.45,112.28 167.79,112.56 168.12,112.84 168.46,113.12 168.79,113.41 169.11,113.70 169.44,113.98 169.77,114.27 170.09,114.57 170.41,114.86 170.73,115.15 171.05,115.45 171.36,115.75 171.67,116.05 171.98,116.35 172.29,116.65 172.59,116.96 172.89,117.27 173.19,117.57 173.49,117.88 173.79,118.20 174.08,118.51 174.37,118.83 174.65,119.15 174.94,119.47 175.22,119.79 175.49,120.11 175.77,120.44 176.04,120.76 176.31,121.09 176.58,121.43 176.84,121.76 177.10,122.09 177.36,122.43 177.62,122.77 177.87,123.11 178.12,123.46 178.37,123.80 178.61,124.15 178.85,124.50 179.09,124.85 179.33,125.21 179.56,125.56 179.79,125.92 180.02,126.28 180.25,126.65 180.47,127.01 180.69,127.38 180.90,127.75 181.12,128.12 181.33,128.49 181.54,128.87 181.74,129.25 181.95,129.63 182.15,130.01 182.34,130.40 182.54,130.79 182.73,131.18 182.92,131.57 183.10,131.96 183.29,132.36 183.47,132.76 183.64,133.16 183.82,133.57 183.99,133.97 184.16,134.38 184.32,134.79 184.49,135.21 184.65,135.62 184.81,136.04 184.96,136.47 185.11,136.89 185.26,137.32 185.41,137.75 185.55,138.18 185.69,138.61 185.82,139.04 185.95,139.48 186.08,139.92 186.19,140.36 186.30,140.79 186.41,141.23 186.50,141.67 186.59,142.11 186.67,142.55 186.75,142.99 186.81,143.43 186.86,143.86 186.90,144.30 186.94,144.73 186.96,145.16 186.97,145.59 186.96,146.02 186.95,146.44 186.92,146.86 186.88,147.28 186.83,147.70 186.76,148.11 186.67,148.51 186.57,148.92 186.46,149.32 186.33,149.71 186.18,150.10 186.02,150.49 185.84,150.86 185.64,151.24 185.44,151.61 185.21,151.97 184.98,152.33 184.73,152.68 184.47,153.02 184.20,153.36 183.92,153.69 183.63,154.02 183.32,154.34 183.01,154.65 182.69,154.95 182.36,155.25 182.02,155.54 181.68,155.82 181.33,156.09 180.97,156.36 180.61,156.62 180.24,156.87 179.86,157.11 179.49,157.34 179.11,157.56 178.72,157.77 178.34,157.98 177.95,158.17 177.56,158.36 177.16,158.54 176.77,158.71 176.37,158.87 175.97,159.02 175.57,159.17 175.17,159.31 174.76,159.44 174.36,159.56 173.95,159.68 173.54,159.79 173.12,159.89 172.71,159.99 172.29,160.08 171.87,160.17 171.45,160.25 171.03,160.33 170.61,160.40 170.19,160.47 169.76,160.53 169.34,160.59 168.91,160.64 168.48,160.70 168.05,160.74 167.61,160.79 167.18,160.83 166.75,160.87 166.31,160.91 165.88,160.94 165.44,160.97 165.00,161.00 164.56,161.03 164.12,161.06 163.68,161.09 163.24,161.11 162.80,161.14 162.35,161.16 161.91,161.19 161.47,161.21 161.02,161.23 160.58,161.26 160.13,161.28 159.68,161.30 159.24,161.32 158.79,161.34 158.35,161.35 157.90,161.37 157.45,161.38 157.01,161.39 156.56,161.40 156.12,161.41 155.67,161.42 155.23,161.42 154.78,161.42 154.34,161.42 153.89,161.41 153.45,161.40 153.01,161.39 152.57,161.38 152.13,161.36 151.69,161.34 151.25,161.31 150.81,161.28 150.38,161.25 149.94,161.21 149.51,161.17 149.08,161.12 148.65,161.07 148.22,161.01 147.79,160.95 147.37,160.89 146.94,160.81 146.52,160.74 146.10,160.66 145.68,160.57 145.26,160.47 144.85,160.38 144.44,160.27 144.03,160.16 143.62,160.04 143.21,159.92 142.81,159.79 142.41,159.65 142.01,159.50 141.61,159.35 141.22,159.20 140.83,159.03 140.44,158.86 140.06,158.68 139.67,158.50 139.29,158.31 138.91,158.12 138.54,157.91 138.16,157.71 137.79,157.50 137.42,157.28 137.06,157.05 136.69,156.83 136.33,156.59 135.97,156.35 135.62,156.11 135.26,155.86 134.91,155.61 134.56,155.35 134.22,155.09 133.87,154.82 133.53,154.55 133.19,154.28 132.85,154.00 132.52,153.72 132.18,153.43 131.85,153.14 131.53,152.85 131.20,152.55 130.88,152.25 130.56,151.95 130.24,151.65 129.92,151.34 129.61,151.03 129.29,150.71 128.98,150.39 128.68,150.08 128.37,149.75 128.07,149.43 127.77,149.10 127.47,148.78 127.17,148.45 126.88,148.11 126.59,147.78 126.30,147.44 126.02,147.10 125.74,146.76 125.46,146.42 125.18,146.07 124.91,145.73 124.64,145.38 124.38,145.03 124.11,144.67 123.86,144.32 123.60,143.96 123.35,143.60 123.10,143.24 122.86,142.87 122.62,142.51 122.39,142.14 122.16,141.77 121.93,141.40 121.71,141.02 121.50,140.65 121.28,140.27 121.08,139.89 120.87,139.51 120.68,139.13 120.49,138.74 120.30,138.35 120.12,137.96 119.94,137.57 119.77,137.18 119.61,136.78 119.45,136.38 119.29,135.98 119.14,135.58 119.00,135.18 118.87,134.77 118.73,134.37 118.61,133.96 118.49,133.55 118.37,133.14 118.26,132.73 118.15,132.31 118.05,131.89 117.95,131.48 117.86,131.06 117.77,130.64 117.69,130.22 117.60,129.79 117.53,129.37 117.45,128.94 117.38,128.52 117.32,128.09 117.25,127.66 117.19,127.23 117.14,126.80 117.08,126.37 117.03,125.94 116.98,125.51 116.94,125.07Z" fill="none" stroke="#eba55a" stroke-width="1.25" stroke-linejoin="round"/>
<path d="M146.77,111.33 146.63,111.22 146.46,111.12 146.29,111.04 146.11,110.98 145.92,110.93 145.73,110.89 145.52,110.87 145.31,110.86 145.10,110.86 144.88,110.87 144.65,110.89 144.43,110.91 144.20,110.94 143.97,110.98 143.74,111.03 143.52,111.07 143.29,111.12 143.06,111.18 142.84,111.23 142.62,111.29 142.39,111.36 142.18,111.43 141.96,111.50 141.74,111.57 141.53,111.65 141.32,111.73 141.11,111.82 140.90,111.90 140.70,112.00 140.50,112.09 140.30,112.19 140.11,112.30 139.92,112.40 139.73,112.52 139.54,112.63 139.36,112.75 139.18,112.88 139.01,113.00 138.84,113.13 138.67,113.27 138.51,113.40 138.34,113.55 138.19,113.69 138.03,113.84 137.88,113.99 137.73,114.14 137.59,114.29 137.44,114.45 137.31,114.61 137.17,114.78 137.04,114.94 136.91,115.11 136.78,115.28 136.66,115.45 136.54,115.62 136.42,115.80 136.31,115.98 136.20,116.15 136.09,116.33 135.99,116.52 135.89,116.70 135.79,116.88 135.69,117.07 135.60,117.26 135.51,117.45 135.42,117.64 135.34,117.83 135.26,118.02 135.18,118.21 135.11,118.41 135.04,118.60 134.97,118.80 134.90,119.00 134.84,119.20 134.78,119.40 134.72,119.60 134.67,119.80 134.62,120.01 134.57,120.21 134.52,120.41 134.48,120.62 134.44,120.83 134.40,121.03 134.36,121.24 134.33,121.45 134.30,121.66 134.27,121.87 134.25,122.08 134.22,122.29 134.20,122.50 134.19,122.71 134.17,122.93 134.16,123.14 134.15,123.35 134.14,123.57 134.14,123.78 134.14,123.99 134.14,124.21 134.14,124.42 134.14,124.64 134.15,124.85 134.16,125.07 134.17,125.28 134.19,125.50 134.21,125.71 134.22,125.93 134.25,126.14 134.27,126.36 134.30,126.57 134.32,126.79 134.35,127.00 134.39,127.22 134.42,127.43 134.46,127.64 134.50,127.86 134.54,128.07 134.58,128.28 134.63,128.50 134.68,128.71 134.73,128.92 134.78,129.13 134.83,129.34 134.89,129.55 134.95,129.76 135.01,129.97 135.07,130.18 135.14,130.39 135.20,130.60 135.27,130.80 135.34,131.01 135.41,131.21 135.49,131.42 135.56,131.62 135.64,131.83 135.72,132.03 135.80,132.23 135.89,132.43 135.97,132.63 136.06,132.83 136.15,133.03 136.24,133.23 136.34,133.42 136.43,133.62 136.53,133.81 136.63,134.01 136.73,134.20 136.83,134.39 136.93,134.58 137.04,134.77 137.15,134.96 137.25,135.15 137.37,135.33 137.48,135.52 137.59,135.70 137.71,135.88 137.83,136.06 137.94,136.24 138.07,136.42 138.19,136.60 138.31,136.78 138.44,136.95 138.56,137.12 138.69,137.29 138.82,137.46 138.96,137.63 139.09,137.80 139.22,137.97 139.36,138.13 139.50,138.29 139.64,138.45 139.78,138.61 139.92,138.77 140.06,138.93 140.21,139.08 140.35,139.24 140.50,139.39 140.65,139.54 140.80,139.68 140.95,139.83 141.11,139.97 141.26,140.12 141.42,140.26 141.58,140.40 141.73,140.53 141.89,140.67 142.06,140.80 142.22,140.93 142.38,141.06 142.55,141.19 142.71,141.31 142.88,141.43 143.05,141.55 143.22,141.67 143.39,141.79 143.56,141.90 143.74,142.02 143.91,142.13 144.09,142.23 144.26,142.34 144.44,142.44 144.62,142.54 144.80,142.64 144.98,142.74 145.16,142.84 145.34,142.93 145.53,143.02 145.71,143.11 145.90,143.19 146.09,143.28 146.28,143.36 146.47,143.44 146.66,143.52 146.85,143.60 147.04,143.67 147.23,143.74 147.43,143.81 147.62,143.88 147.82,143.94 148.02,144.01 148.21,144.07 148.41,144.13 148.61,144.19 148.81,144.24 149.02,144.30 149.22,144.35 149.42,144.40 149.63,144.44 149.83,144.49 150.04,144.53 150.24,144.58 150.45,144.61 150.66,144.65 150.87,144.69 151.08,144.72 151.29,144.75 151.50,144.78 151.71,144.81 151.93,144.84 152.14,144.86 152.35,144.88 152.57,144.90 152.79,144.92 153.00,144.94 153.22,144.95 153.44,144.97 153.66,144.98 153.88,144.99 154.10,144.99 154.32,145.00 154.54,145.00 154.76,145.00 154.98,145.00 155.21,145.00 155.43,145.00 155.65,144.99 155.88,144.99 156.11,144.98 156.33,144.96 156.56,144.95 156.79,144.94 157.01,144.92 157.24,144.90 157.47,144.88 157.70,144.86 157.93,144.84 158.16,144.81 158.38,144.78 158.61,144.75 158.84,144.72 159.07,144.68 159.29,144.65 159.52,144.61 159.75,144.57 159.97,144.53 160.19,144.48 160.42,144.43 160.64,144.38 160.86,144.33 161.08,144.28 161.30,144.22 161.51,144.16 161.73,144.10 161.94,144.03 162.15,143.97 162.36,143.90 162.57,143.82 162.78,143.75 162.98,143.67 163.18,143.59 163.38,143.51 163.58,143.42 163.77,143.34 163.96,143.24 164.15,143.15 164.34,143.05 164.52,142.95 164.70,142.85 164.88,142.75 165.05,142.64 165.22,142.53 165.39,142.41 165.56,142.29 165.72,142.17 165.87,142.05 166.03,141.92 166.18,141.79 166.32,141.66 166.46,141.52 166.60,141.38 166.73,141.24 166.86,141.09 166.99,140.94 167.11,140.79 167.22,140.64 167.34,140.48 167.44,140.31 167.54,140.14 167.64,139.97 167.73,139.80 167.82,139.62 167.90,139.44 167.98,139.26 168.05,139.07 168.11,138.88 168.18,138.69 168.23,138.49 168.28,138.29 168.33,138.09 168.37,137.89 168.41,137.68 168.45,137.48 168.48,137.27 168.50,137.06 168.52,136.85 168.54,136.64 168.55,136.43 168.55,136.22 168.56,136.00 168.56,135.79 168.55,135.57 168.54,135.36 168.53,135.15 168.51,134.93 168.49,134.72 168.47,134.51 168.44,134.29 168.41,134.08 168.37,133.87 168.33,133.66 168.29,133.45 168.24,133.23 168.19,133.02 168.14,132.81 168.08,132.61 168.02,132.40 167.96,132.19 167.90,131.98 167.83,131.77 167.76,131.57 167.68,131.36 167.61,131.16 167.53,130.95 167.45,130.75 167.36,130.54 167.27,130.34 167.19,130.14 167.09,129.94 167.00,129.74 166.91,129.54 166.81,129.34 166.71,129.14 166.61,128.95 166.50,128.75 166.40,128.56 166.29,128.36 166.18,128.17 166.07,127.98 165.96,127.79 165.84,127.60 165.73,127.41 165.61,127.22 165.49,127.03 165.37,126.85 165.25,126.66 165.13,126.48 165.01,126.30 164.89,126.12 164.76,125.94 164.64,125.76 164.51,125.58 164.39,125.41 164.26,125.23 164.13,125.06 164.00,124.89 163.87,124.71 163.74,124.54 163.61,124.38 163.48,124.21 163.35,124.04 163.22,123.88 163.08,123.72 162.95,123.55 162.81,123.39 162.68,123.23 162.54,123.07 162.40,122.92 162.26,122.76 162.12,122.61 161.98,122.45 161.84,122.30 161.70,122.15 161.56,122.00 161.41,121.85 161.27,121.70 161.12,121.56 160.97,121.41 160.83,121.27 160.68,121.12 160.53,120.98 160.38,120.84 160.23,120.70 160.08,120.57 159.92,120.43 159.77,120.29 159.62,120.16 159.46,120.03 159.30,119.89 159.15,119.76 158.99,119.63 158.83,119.50 158.67,119.38 158.51,119.25 158.34,119.13 158.18,119.00 158.01,118.88 157.85,118.76 157.68,118.64 157.51,118.52 157.35,118.40 157.18,118.28 157.01,118.17 156.83,118.05 156.66,117.94 156.49,117.83 156.31,117.72 156.14,117.61 155.96,117.50 155.78,117.39 155.60,117.28 155.42,117.18 155.24,117.07 155.06,116.97 154.87,116.87 154.69,116.77 154.50,116.67 154.32,116.57 154.13,116.47 153.94,116.37 153.75,116.28 153.55,116.19 153.36,116.09 153.17,116.00 152.97,115.91 152.78,115.82 152.58,115.73 152.38,115.64 152.18,115.56 151.98,115.47 151.77,115.39 151.57,115.30 151.37,115.22 151.16,115.14 150.95,115.06 150.74,114.98 150.53,114.90 150.33,114.82 150.12,114.73 149.92,114.65 149.72,114.56 149.52,114.47 149.33,114.37 149.14,114.26 148.96,114.15 148.78,114.03 148.62,113.90 148.46,113.76 148.31,113.61 148.17,113.44 148.04,113.27 147.92,113.09 147.81,112.90 147.70,112.71 147.59,112.52 147.49,112.32 147.38,112.13 147.27,111.95 147.16,111.78 147.04,111.62 146.91,111.47Z" fill="none" stroke="#8a48a0" stroke-width="1.25" stroke-linejoin="round"/>
</g>
<path d="M47.6,241.5v3 M47.6,16.5v3 M36.5,231.4h-3 M265,231.4h-3 M64.8,240.5v3 M64.8,16.5v2 M37.5,214.4h-2.5 M265,214.4h-2 M82.0,241.5v3 M82.0,16.5v3 M36.5,197.3h-3 M265,197.3h-3 M99.2,240.5v3 M99.2,16.5v2 M37.5,180.2h-2.5 M265,180.2h-2 M116.4,241.5v3 M116.4,16.5v3 M36.5,163.2h-3 M265,163.2h-3 M133.6,240.5v3 M133.6,16.5v2 M37.5,146.1h-2.5 M265,146.1h-2 M150.8,241.5v3 M150.8,16.5v3 M36.5,129.0h-3 M265,129.0h-3 M168.0,240.5v3 M168.0,16.5v2 M37.5,111.9h-2.5 M265,111.9h-2 M185.2,241.5v3 M185.2,16.5v3 M36.5,94.8h-3 M265,94.8h-3 M202.4,240.5v3 M202.4,16.5v2 M37.5,77.8h-2.5 M265,77.8h-2 M219.6,241.5v3 M219.6,16.5v3 M36.5,60.7h-3 M265,60.7h-3 M236.8,240.5v3 M236.8,16.5v2 M37.5,43.6h-2.5 M265,43.6h-2 M254.0,241.5v3 M254.0,16.5v3 M36.5,26.6h-3 M265,26.6h-3" stroke="#b0b0b0" stroke-width="0.8" fill="none"/>
<rect x="36.5" y="16.5" width="228.5" height="225.0" fill="none" stroke="#9c9c9c" stroke-width="1"/>
<g font-family="DejaVu Sans Condensed, DejaVu Sans, sans-serif" font-size="11.6" fill="#111" stroke="#111" stroke-width="0.22"><text x="47.6" y="255.6" text-anchor="middle">-1.5</text><text x="32.8" y="236.4" text-anchor="end">-1.5</text><text x="82.0" y="255.6" text-anchor="middle">-1</text><text x="32.8" y="202.3" text-anchor="end">-1</text><text x="116.4" y="255.6" text-anchor="middle">-0.5</text><text x="32.8" y="168.2" text-anchor="end">-0.5</text><text x="150.8" y="255.6" text-anchor="middle">0</text><text x="32.8" y="134.0" text-anchor="end">0</text><text x="185.2" y="255.6" text-anchor="middle">0.5</text><text x="32.8" y="99.8" text-anchor="end">0.5</text><text x="219.6" y="255.6" text-anchor="middle">1</text><text x="32.8" y="65.7" text-anchor="end">1</text><text x="254.0" y="255.6" text-anchor="middle">1.5</text><text x="32.8" y="31.6" text-anchor="end">1.5</text></g>
<text x="150.8" y="267.2" text-anchor="middle" font-family="DejaVu Sans Condensed, DejaVu Sans, sans-serif" font-size="11.3" fill="#111" stroke="#111" stroke-width="0.22">Cross-Plane (mm)</text>
<text transform="translate(8.8,128.6) rotate(-90)" text-anchor="middle" font-family="DejaVu Sans Condensed, DejaVu Sans, sans-serif" font-size="11.7" fill="#111" stroke="#111" stroke-width="0.22">In-Plane (mm)</text>
<text x="152.6" y="10.9" text-anchor="middle" font-family="DejaVu Sans Condensed, DejaVu Sans, sans-serif" font-size="13.28" fill="#111" stroke="#111" stroke-width="0.22">Various Factors of Gantry Sag</text>
<rect x="271.5" y="16.5" width="126.0" height="143.0" fill="#fff" stroke="#a0a0a0" stroke-width="1"/>
<g font-family="DejaVu Sans Condensed, DejaVu Sans, sans-serif" font-size="9.35" fill="#111" stroke="#111" stroke-width="0.22" style="white-space:pre"><text x="274.8" y="27.3">Literature Tolerance Levels:</text><text x="284.8" y="39.1">0.5 mm</text><path d="M274.4,35.7h2.5M278.6,35.7h2.5" stroke="#2a2a2a" stroke-width="0.9" opacity="0.85"/><text x="284.8" y="50.9">1 mm</text><path d="M274.4,47.5h2.5M278.6,47.5h2.5" stroke="#e892dc" stroke-width="0.9" opacity="0.85"/><text x="284.8" y="62.6">1.5 mm</text><path d="M274.4,59.2h2.5M278.6,59.2h2.5" stroke="#7a5f52" stroke-width="0.9" opacity="0.85"/><text x="274.8" y="86.2">Gantry Sag with Avg. Radius:</text><text x="284.8" y="98.0">0.25 mm  (F=0.85)</text><path d="M275,94.6h5.8" stroke="#8a48a0" stroke-width="0.9" opacity="0.75"/><text x="284.8" y="109.8">0.5 mm  (F=1.698)</text><path d="M275,106.4h5.8" stroke="#eba55a" stroke-width="0.9" opacity="0.75"/><text x="284.8" y="121.5">0.75 mm  (F=2.545)</text><path d="M275,118.1h5.8" stroke="#38c4b8" stroke-width="0.9" opacity="0.75"/><text x="284.8" y="133.3">1 mm  (F=3.395)</text><path d="M275,129.9h5.8" stroke="#bf3a4c" stroke-width="0.9" opacity="0.75"/><text x="284.8" y="145.1">1.25 mm  (F=4.243)</text><path d="M275,141.7h5.8" stroke="#46578e" stroke-width="0.9" opacity="0.75"/><text x="284.8" y="156.9">1.5 mm  (F=5.09)</text><path d="M275,153.5h5.8" stroke="#478c62" stroke-width="0.9" opacity="0.75"/></g>
</svg>
</body></html>
